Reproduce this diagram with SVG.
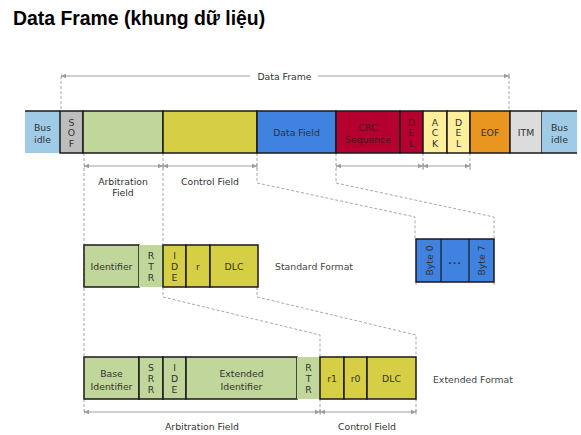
<svg xmlns="http://www.w3.org/2000/svg" width="581" height="435" viewBox="0 0 581 435">
<style>
.cell{stroke:#1a1a1a;stroke-width:1.5}
.t{font-family:"DejaVu Sans",Verdana,sans-serif;font-size:9.3px;fill:#333;text-anchor:middle}
.lbl{font-family:"DejaVu Sans",Verdana,sans-serif;font-size:9.3px;fill:#444}
.dash{stroke:#a8a8a8;stroke-width:1;stroke-dasharray:3 2;fill:none}
.dim{stroke:#a0a0a0;stroke-width:1;fill:none;marker-start:url(#ah);marker-end:url(#ah)}
.half{stroke:#a0a0a0;stroke-width:1;fill:none;marker-start:url(#ah)}
.crc{fill:#4a1020}
</style>
<defs>
<marker id="ah" viewBox="0 0 8 8" refX="7.5" refY="4" markerWidth="8" markerHeight="8" markerUnits="userSpaceOnUse" orient="auto-start-reverse">
<path d="M2.5,1.8 L7.5,4 L2.5,6.2 Z" fill="#9a9a9a"/>
<path d="M7.5,1.5 V6.5" stroke="#9a9a9a" stroke-width="1"/>
</marker>
</defs>
<rect width="581" height="435" fill="#fff"/>
<text x="13" y="25" font-family="Liberation Sans, Arial, sans-serif" font-weight="bold" font-size="19.4" fill="#000">Data Frame (khung dữ liệu)</text>

<g id="connectors">
<path class="dash" d="M61,76 V111 M509,76 V111"/>
<path class="dash" d="M84,153 V357 M163,153 V245 M423,153 V170 M470,153 V170"/>
<path class="dash" d="M257,153 V183 L415,217 V239 M336,153 V183 L494,217 V239 M416,282 V286 M494,282 V286"/>
<path class="dash" d="M163,287 V297 L320,335 V357 M257,287 V297 L416,335 V357"/>
<path class="dash" d="M84,399 V414 M320,399 V414 M416,399 V414"/>
<line class="half" x1="61" y1="76" x2="250" y2="76"/>
<line class="half" x1="509" y1="76" x2="318" y2="76"/>
<text class="t" x="284.5" y="79.5">Data Frame</text>
<line class="dim" x1="84" y1="166" x2="163" y2="166"/>
<line class="dim" x1="163" y1="166" x2="257" y2="166"/>
<line class="dim" x1="336" y1="166" x2="423" y2="166"/>
<line class="dim" x1="423" y1="166" x2="470" y2="166"/>
<text class="t" x="123" y="184.5">Arbitration</text>
<text class="t" x="123" y="195.5">Field</text>
<text class="t" x="210" y="184.5">Control Field</text>
<line class="dim" x1="84" y1="412" x2="320" y2="412"/>
<line class="dim" x1="320" y1="412" x2="416" y2="412"/>
<text class="t" x="202" y="430">Arbitration Field</text>
<text class="t" x="367" y="430">Control Field</text>
</g>

<g id="data-frame">
<rect x="25" y="111" width="35" height="42" fill="#9fcbe6"/>
<path d="M25,111 H60" stroke="#1a1a1a" stroke-width="1.5"/>
<rect class="cell" x="60" y="111" width="23" height="42" fill="#bdbdbd"/>
<rect class="cell" x="83" y="111" width="80" height="42" fill="#c0d69b"/>
<rect class="cell" x="163" y="111" width="94" height="42" fill="#d6cf45"/>
<rect class="cell" x="257" y="111" width="79" height="42" fill="#3f82e0"/>
<rect class="cell" x="336" y="111" width="64" height="42" fill="#b5002f"/>
<rect class="cell" x="400" y="111" width="23" height="42" fill="#b5002f"/>
<rect class="cell" x="423" y="111" width="24" height="42" fill="#fdef9c"/>
<rect class="cell" x="447" y="111" width="23" height="42" fill="#fdef9c"/>
<rect class="cell" x="470" y="111" width="40" height="42" fill="#e8961f"/>
<rect class="cell" x="510" y="111" width="32" height="42" fill="#dcdcdc"/>
<rect x="542" y="111" width="35" height="42" fill="#9fcbe6"/>
<path d="M542,111 H577 M542,153 H577" stroke="#1a1a1a" stroke-width="1.5"/>
<text class="t" x="42.5" y="130.5">Bus</text>
<text class="t" x="42.5" y="142.5">idle</text>
<text class="t" x="71.5" y="125.5">S</text>
<text class="t" x="71.5" y="136">O</text>
<text class="t" x="71.5" y="146.5">F</text>
<text class="t" x="296.5" y="135.5">Data Field</text>
<text class="t crc" x="368" y="130.5">CRC</text>
<text class="t crc" x="368" y="142.5">Sequence</text>
<text class="t crc" x="411.5" y="125.5">D</text>
<text class="t crc" x="411.5" y="136">E</text>
<text class="t crc" x="411.5" y="146.5">L</text>
<text class="t" x="435" y="125.5">A</text>
<text class="t" x="435" y="136">C</text>
<text class="t" x="435" y="146.5">K</text>
<text class="t" x="458.5" y="125.5">D</text>
<text class="t" x="458.5" y="136">E</text>
<text class="t" x="458.5" y="146.5">L</text>
<text class="t" x="490" y="135.5">EOF</text>
<text class="t" x="526" y="135.5">ITM</text>
<text class="t" x="559.5" y="130.5">Bus</text>
<text class="t" x="559.5" y="142.5">idle</text>
</g>

<g id="standard-format">
<rect class="cell" x="84" y="245" width="55" height="42" fill="#c0d69b"/>
<rect x="139" y="245" width="24" height="42" fill="#c0d69b"/>
<rect class="cell" x="163" y="245" width="23" height="42" fill="#d6cf45"/>
<rect class="cell" x="186" y="245" width="24" height="42" fill="#d6cf45"/>
<rect class="cell" x="210" y="245" width="48" height="42" fill="#d6cf45"/>
<text class="t" x="111.5" y="269.5">Identifier</text>
<text class="t" x="151" y="258.5">R</text>
<text class="t" x="151" y="269.5">T</text>
<text class="t" x="151" y="280.5">R</text>
<text class="t" x="174.5" y="258.5">I</text>
<text class="t" x="174.5" y="269.5">D</text>
<text class="t" x="174.5" y="280.5">E</text>
<text class="t" x="198" y="269.5">r</text>
<text class="t" x="234" y="269.5">DLC</text>
<text class="lbl" x="275" y="270">Standard Format</text>
</g>

<g id="data-bytes">
<rect class="cell" x="416" y="239" width="78" height="43" fill="#3f82e0"/>
<path d="M441,239 V282 M469,239 V282" stroke="#1a1a1a" stroke-width="1.2"/>
<text class="t" font-size="10" transform="translate(432.5,260.5) rotate(-90)">Byte 0</text>
<text class="t" font-size="10" transform="translate(485,260.5) rotate(-90)">Byte 7</text>
<text class="t" x="455" y="264" font-weight="bold" fill="#111" letter-spacing="1">...</text>
</g>

<g id="extended-format">
<rect class="cell" x="84" y="357" width="55" height="42" fill="#c0d69b"/>
<rect class="cell" x="139" y="357" width="24" height="42" fill="#c0d69b"/>
<rect class="cell" x="163" y="357" width="23" height="42" fill="#c0d69b"/>
<rect class="cell" x="186" y="357" width="111" height="42" fill="#c0d69b"/>
<rect x="297" y="357" width="23" height="42" fill="#c0d69b"/>
<rect class="cell" x="320" y="357" width="24" height="42" fill="#d6cf45"/>
<rect class="cell" x="344" y="357" width="23" height="42" fill="#d6cf45"/>
<rect class="cell" x="367" y="357" width="49" height="42" fill="#d6cf45"/>
<text class="t" x="111.5" y="377">Base</text>
<text class="t" x="111.5" y="389.5">Identifier</text>
<text class="t" x="151" y="370.5">S</text>
<text class="t" x="151" y="381.5">R</text>
<text class="t" x="151" y="392.5">R</text>
<text class="t" x="174.5" y="370.5">I</text>
<text class="t" x="174.5" y="381.5">D</text>
<text class="t" x="174.5" y="392.5">E</text>
<text class="t" x="241.5" y="377">Extended</text>
<text class="t" x="241.5" y="389.5">Identifier</text>
<text class="t" x="308.5" y="370.5">R</text>
<text class="t" x="308.5" y="381.5">T</text>
<text class="t" x="308.5" y="392.5">R</text>
<text class="t" x="332" y="381.5">r1</text>
<text class="t" x="355.5" y="381.5">r0</text>
<text class="t" x="391.5" y="381.5">DLC</text>
<text class="lbl" x="433" y="383">Extended Format</text>
</g>
</svg>
